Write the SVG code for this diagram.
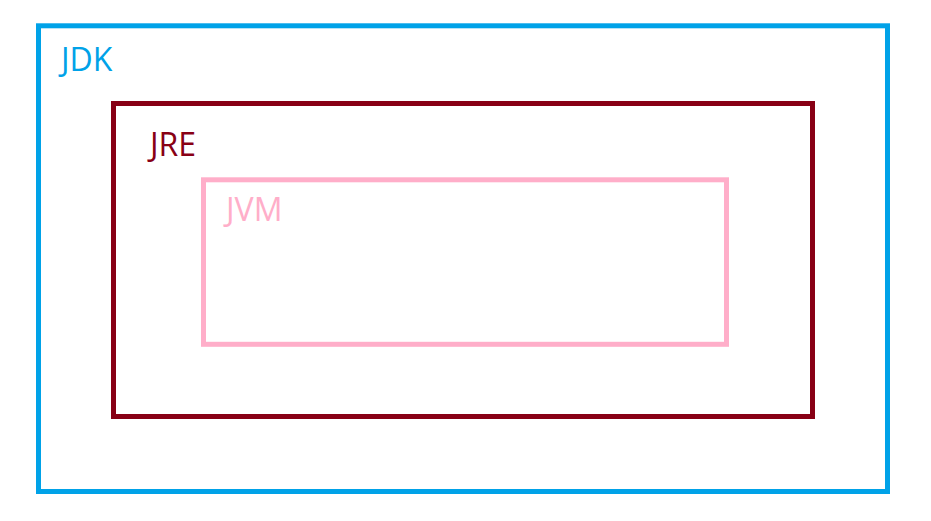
<svg xmlns="http://www.w3.org/2000/svg" width="931" height="521" viewBox="0 0 931 521">
<style>
.box{fill:none;stroke-width:5}
.lbl{font-family:"Open Sans","Noto Sans","DejaVu Sans",sans-serif;font-size:32px}
</style>
<rect width="931" height="521" fill="#ffffff"/>
<g id="jdk">
<rect class="box" x="38.5" y="25.8" width="849" height="465.7" stroke="#00A2E8"/>
<text class="lbl" x="61" y="71" fill="#00A2E8">JDK</text>
</g>
<g id="jre">
<rect class="box" x="113.5" y="103.5" width="699" height="313" stroke="#880015"/>
<text class="lbl" x="150" y="155.5" fill="#880015">JRE</text>
</g>
<g id="jvm">
<rect class="box" x="203.5" y="179.8" width="523" height="164.5" stroke="#FFAEC9"/>
<text class="lbl" x="226" y="220.5" fill="#FFAEC9">JVM</text>
</g>
<g id="connectors"/>
</svg>
